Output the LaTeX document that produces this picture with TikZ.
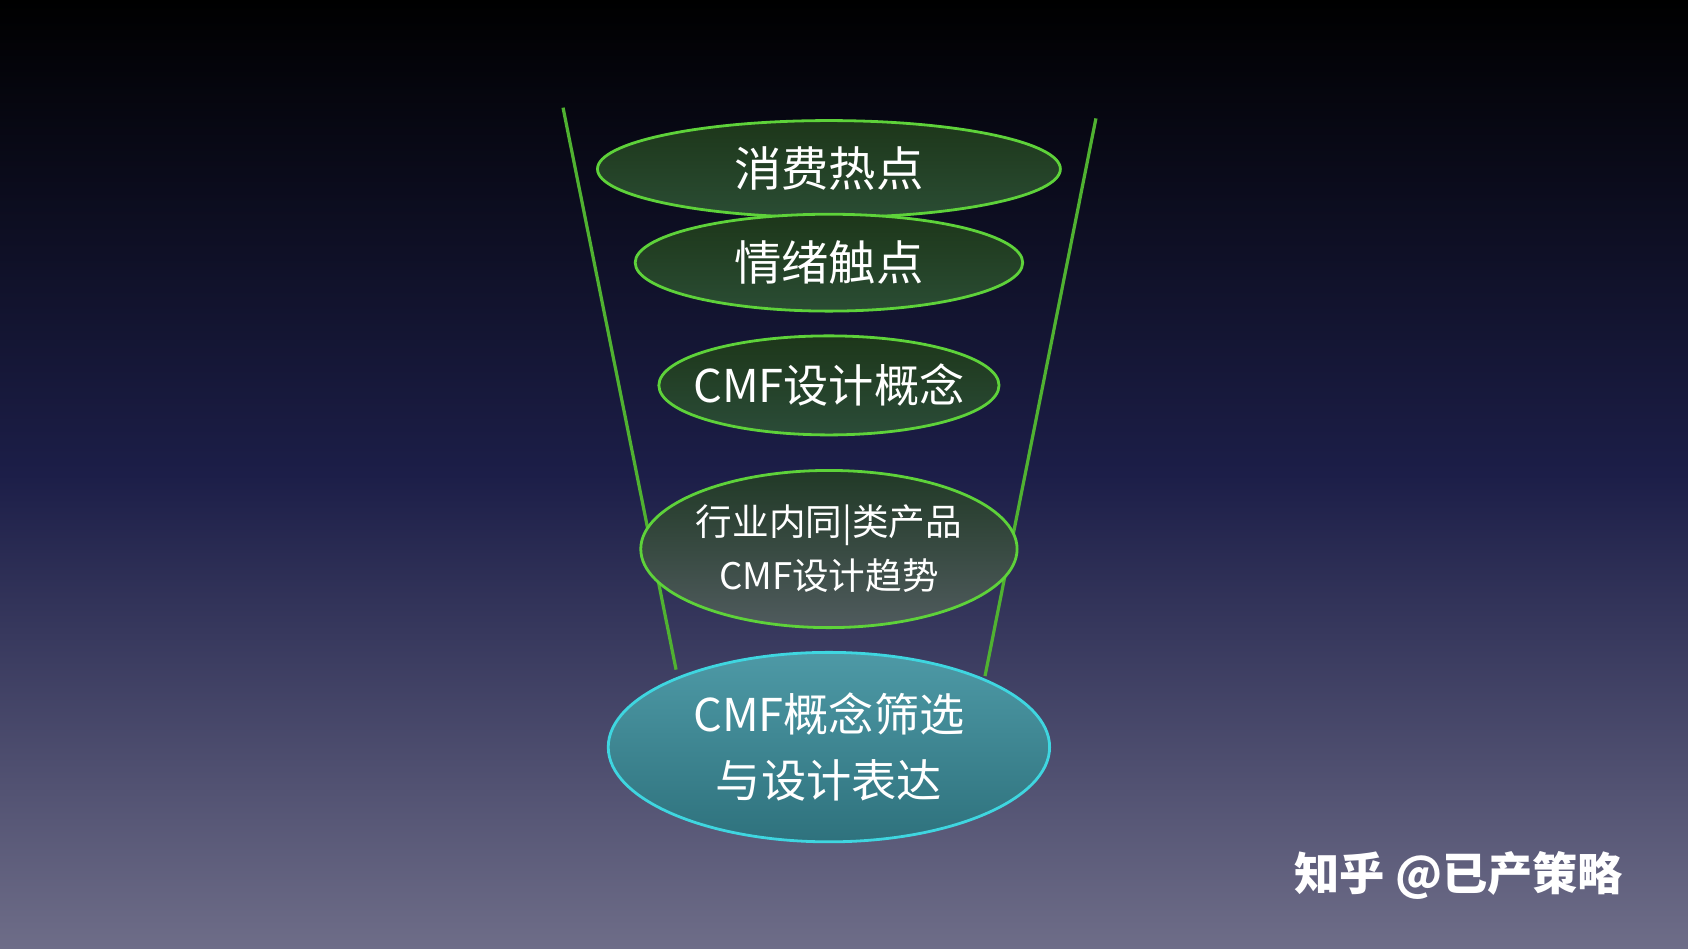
\documentclass[tikz,border=0pt]{standalone}
\usepackage{fontspec}
\setmainfont{Noto Sans CJK SC}
\usetikzlibrary{shapes.geometric}
\definecolor{bgtop}{HTML}{000000}
\definecolor{bgmid}{HTML}{1C1E48}
\definecolor{bgbot}{HTML}{6E6D88}
\definecolor{lgreen}{HTML}{5ED23A}
\definecolor{dgreen}{HTML}{22401E}
\definecolor{tealf}{HTML}{3A8E9C}
\definecolor{cyanb}{HTML}{3FD6E0}
\tikzset{
  ov/.style={ellipse, draw=lgreen, line width=1.3pt, text=white, align=center, inner sep=0pt, top color=dgreen!85!black, bottom color=dgreen!70!lgreen!60!bgmid},
  funnel/.style={draw=lgreen!85!black, line width=1.5pt},
}
\begin{document}
\begin{tikzpicture}[x=0.5pt,y=-0.5pt]
\useasboundingbox (0,0) rectangle (1568,881);
\shade[top color=bgtop, bottom color=bgbot, middle color=bgmid] (0,0) rectangle (1568,881);
\coordinate (l1) at (523,100); \coordinate (l2) at (628,622);
\coordinate (r1) at (1018,110); \coordinate (r2) at (915,628);
\draw[funnel] (l1) -- (l2);
\draw[funnel] (r1) -- (r2);
\node[ov, minimum width=215pt, minimum height=45pt, font=\fontsize{22}{24}\selectfont] (a) at (770,157) {消费热点};
\node[ov, minimum width=180pt, minimum height=45pt, font=\fontsize{22}{24}\selectfont] (b) at (770,244) {情绪触点};
\node[ov, inner sep=-9pt, minimum width=158pt, minimum height=46pt, font=\fontsize{21}{24}\selectfont, bottom color=dgreen!60!lgreen!50!bgmid] (c) at (770,358) {CMF设计概念};
\node[ov, minimum width=173pt, minimum height=73pt, font=\fontsize{17}{25}\selectfont, top color=dgreen!80!bgmid, bottom color=dgreen!40!bgbot] (d) at (770,510) {行业内同|类产品\\CMF设计趋势};
\node[ov, draw=cyanb, minimum width=205pt, minimum height=88pt, font=\fontsize{21}{31}\selectfont, top color=tealf!90!white, bottom color=tealf!80!black] (e) at (770,694) {CMF概念筛选\\与设计表达};
\node[text=white, font=\fontsize{21}{24}\selectfont\bfseries] (w) at (1355,813) {知乎 @已产策略};
\end{tikzpicture}
\end{document}
